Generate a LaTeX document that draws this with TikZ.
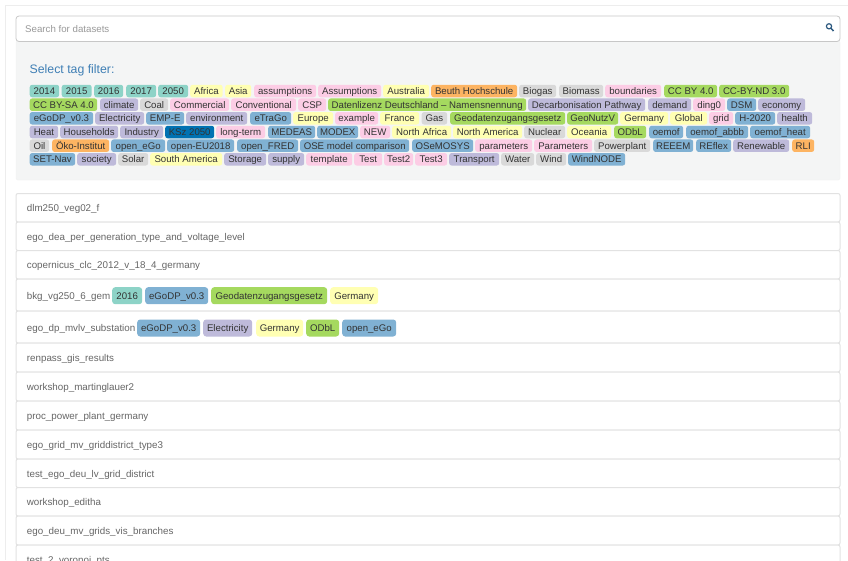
\documentclass[tikz,border=0pt]{standalone}
\usepackage{fontspec}
\setmainfont{Liberation Sans}
\definecolor{cT}{HTML}{8DD3C7}
\definecolor{cY}{HTML}{FFFFB3}
\definecolor{cP}{HTML}{FCCDE5}
\definecolor{cO}{HTML}{FDB462}
\definecolor{cG}{HTML}{D9D9D9}
\definecolor{cL}{HTML}{A5D95F}
\definecolor{cV}{HTML}{BEBADA}
\definecolor{cB}{HTML}{80B1D3}
\definecolor{cK}{HTML}{0072B2}
\definecolor{itemtext}{HTML}{666666}
\definecolor{tagtext}{HTML}{333333}
\definecolor{linkblue}{HTML}{3F7FB5}
\definecolor{edge}{HTML}{E2E2E2}
\definecolor{panelbg}{HTML}{F4F5F5}
\newcount\tagno
\def\rowy{0}
\newcommand{\tg}[4]{\global\advance\tagno by 1
  \pgfmathsetmacro{\tw}{#2-#1}
  \node[tagbox, fill=#3, minimum width=\tw pt] (tag\the\tagno) at (#1,\rowy) {#4};}
\newcommand{\ti}[4]{\global\advance\tagno by 1
  \pgfmathsetmacro{\tw}{#2-#1}
  \node[tagbox, inline tag, fill=#3, minimum width=\tw pt] (tag\the\tagno) at (#1,\rowy) {#4};}
\newcommand{\lst}[4]{\draw[itembox] (16,#2) rectangle (840,#3);
  \node[itemlabel] (#1) at (26.7,{(#2+#3)/2}) {#4};}
\tikzset{
  x=1pt,y=-1pt,
  tagbox/.style={anchor=west,rounded corners=2.5pt,inner xsep=0pt,inner ysep=0pt,minimum height=12.5pt,
    text=tagtext,font=\fontsize{9.65}{12}\selectfont,text height=8.6pt,text depth=1.6pt},
  inline tag/.style={minimum height=17pt,rounded corners=3pt},
  itembox/.style={draw=edge,line width=1pt,fill=white,rounded corners=2pt},
  itemlabel/.style={anchor=west,inner sep=0pt,text=itemtext,font=\fontsize{9.8}{12}\selectfont,text height=10.2pt,text depth=2pt},
}
\begin{document}
\begin{tikzpicture}
\useasboundingbox (0,0) rectangle (848,560);
\fill[white] (0,0) rectangle (848,560);
\draw[draw=black!7,line width=0.8pt] (848,5) -- (5,5) -- (5,560);
\draw[panelbg!80!edge,fill=panelbg,rounded corners=2pt] (16,41) rectangle (840,180);
\draw[black!22,fill=white,rounded corners=3pt,line width=0.8pt] (16,16) rectangle (840,41.5);
\node[anchor=west,inner sep=0pt,text=black!40,font=\fontsize{9.7}{12}\selectfont] (search) at (25,29.5) {Search for datasets};
\draw[linkblue!70!black,line width=1.2pt] (829,26.3) circle (2.6pt);
\draw[linkblue!70!black,line width=1.5pt] (831,28.3) -- (833.5,31);
\node[anchor=west,inner sep=0pt,text=linkblue,font=\fontsize{12.3}{14}\selectfont] (filter) at (29.5,70) {Select tag filter:};
\def\rowy{91}
\tg{29.5}{59}{cT}{2014}\tg{61.5}{91.5}{cT}{2015}\tg{94}{123}{cT}{2016}\tg{126}{156}{cT}{2017}\tg{158}{188}{cT}{2050}
\tg{190}{222.5}{cY}{Africa}\tg{225}{251}{cY}{Asia}\tg{254}{316}{cP}{assumptions}\tg{318}{381}{cP}{Assumptions}\tg{383}{429}{cY}{Australia}
\tg{431}{517}{cO}{Beuth Hochschule}\tg{519}{556}{cG}{Biogas}\tg{559}{603}{cG}{Biomass}\tg{605}{661}{cP}{boundaries}\tg{664}{717}{cL}{CC BY 4.0}\tg{719}{789}{cL}{CC-BY-ND 3.0}
\def\rowy{104.7}
\tg{29.5}{97}{cL}{CC BY-SA 4.0}\tg{100}{138}{cV}{climate}\tg{140}{168}{cG}{Coal}\tg{170}{229}{cP}{Commercial}\tg{231}{296}{cP}{Conventional}\tg{298}{326}{cP}{CSP}
\tg{328}{526}{cL}{Datenlizenz Deutschland – Namensnennung}\tg{528}{645}{cV}{Decarbonisation Pathway}\tg{648}{691}{cV}{demand}\tg{693}{725}{cP}{ding0}\tg{727}{756}{cB}{DSM}\tg{758}{805}{cV}{economy}
\def\rowy{118.3}
\tg{29.5}{93}{cB}{eGoDP\_v0.3}\tg{95}{144}{cV}{Electricity}\tg{146}{184}{cB}{EMP-E}\tg{186}{247}{cV}{environment}\tg{250}{291}{cB}{eTraGo}\tg{293}{333}{cY}{Europe}\tg{335}{378}{cP}{example}\tg{380}{419}{cY}{France}
\tg{421.5}{447}{cG}{Gas}\tg{450}{565}{cL}{Geodatenzugangsgesetz}\tg{567}{618}{cL}{GeoNutzV}\tg{620}{668}{cY}{Germany}\tg{670}{707}{cY}{Global}\tg{709}{733}{cP}{grid}\tg{735}{775}{cB}{H-2020}\tg{777}{812}{cV}{health}
\def\rowy{132}
\tg{29.5}{58}{cV}{Heat}\tg{60}{118}{cV}{Households}\tg{120}{163}{cV}{Industry}\tg{165}{214}{cK}{KSz 2050}\tg{216}{265}{cP}{long-term}\tg{268}{315}{cB}{MEDEAS}\tg{317}{358}{cB}{MODEX}\tg{360}{390}{cP}{NEW}
\tg{392}{451}{cY}{North Africa}\tg{453}{522}{cY}{North America}\tg{524}{565}{cG}{Nuclear}\tg{567}{611}{cY}{Oceania}\tg{614}{646}{cL}{ODbL}\tg{649}{683}{cB}{oemof}\tg{686}{748}{cB}{oemof\_abbb}\tg{750}{810}{cB}{oemof\_heat}
\def\rowy{145.7}
\tg{29.5}{49}{cG}{Oil}\tg{52}{109}{cO}{Öko-Institut}\tg{111}{165}{cB}{open\_eGo}\tg{167}{234}{cB}{open-EU2018}\tg{237}{298}{cB}{open\_FRED}\tg{300}{409}{cB}{OSE model comparison}
\tg{412}{473}{cB}{OSeMOSYS}\tg{475}{532}{cP}{parameters}\tg{534}{592}{cP}{Parameters}\tg{594}{650}{cG}{Powerplant}\tg{653}{693}{cB}{REEEM}\tg{696}{731}{cB}{REflex}\tg{733}{789}{cV}{Renewable}\tg{792}{814}{cO}{RLI}
\def\rowy{159.3}
\tg{29.5}{75}{cB}{SET-Nav}\tg{77}{116}{cV}{society}\tg{118}{148}{cG}{Solar}\tg{150}{222}{cY}{South America}\tg{224}{266}{cV}{Storage}\tg{268}{304}{cV}{supply}\tg{306}{352}{cP}{template}\tg{354}{382}{cP}{Test}\tg{384}{413}{cP}{Test2}
\tg{415}{447}{cP}{Test3}\tg{449}{499}{cV}{Transport}\tg{501}{534}{cG}{Water}\tg{536}{566}{cG}{Wind}\tg{568}{625}{cB}{WindNODE}
\lst{i1}{193.5}{222}{dlm250\_veg02\_f}
\lst{i2}{222}{250.5}{ego\_dea\_per\_generation\_type\_and\_voltage\_level}
\lst{i3}{250.5}{279}{copernicus\_clc\_2012\_v\_18\_4\_germany}
\lst{i4}{279}{311}{bkg\_vg250\_6\_gem}
\lst{i5}{311}{343}{ego\_dp\_mvlv\_substation}
\lst{i6}{343}{372}{renpass\_gis\_results}
\lst{i7}{372}{401}{workshop\_martinglauer2}
\lst{i8}{401}{430}{proc\_power\_plant\_germany}
\lst{i9}{430}{459}{ego\_grid\_mv\_griddistrict\_type3}
\lst{i10}{459}{487.5}{test\_ego\_deu\_lv\_grid\_district}
\lst{i11}{487.5}{516}{workshop\_editha}
\lst{i12}{516}{545}{ego\_deu\_mv\_grids\_vis\_branches}
\lst{i13}{545}{574}{test\_2\_voronoi\_pts}
\def\rowy{295.7}
\ti{112}{142}{cT}{2016}\ti{145}{208}{cB}{eGoDP\_v0.3}\ti{211}{327}{cL}{Geodatenzugangsgesetz}\ti{330}{378}{cY}{Germany}
\def\rowy{328}
\ti{137}{200}{cB}{eGoDP\_v0.3}\ti{203}{252}{cV}{Electricity}\ti{256}{303}{cY}{Germany}\ti{306}{339}{cL}{ODbL}\ti{342}{396}{cB}{open\_eGo}
\end{tikzpicture}
\end{document}
